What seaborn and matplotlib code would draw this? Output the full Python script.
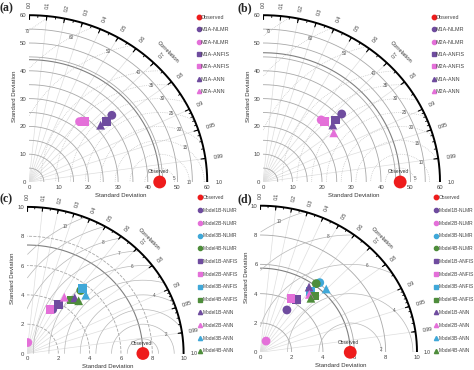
import numpy as np
import pandas as pd
import matplotlib
matplotlib.use("Agg")
import matplotlib.pyplot as plt
from matplotlib.lines import Line2D
import seaborn as sns

# modelli e valori (deviazione standard, correlazione)
names_a = ["M1A-NLMR", "M2A-NLMR", "M1A-ANFIS", "M2A-ANFIS", "M1A-ANN", "M2A-ANN"]
groups_a = ["M1", "M2", "M1", "M2", "M1", "M2"]
methods_a = ["NLMR", "NLMR", "ANFIS", "ANFIS", "ANN", "ANN"]
std_a = [36.8, 27.6, 34.1, 28.7, 31.6, 28.1]
corr_a = [0.758, 0.617, 0.769, 0.649, 0.763, 0.634]
obs_a = 44.0

std_b = [36.2, 29.8, 33.3, 30.1, 31.3, 29.8]
corr_b = [0.737, 0.662, 0.742, 0.695, 0.756, 0.805]
obs_b = 46.5

names_c = ["Model1B-NLMR", "Model2B-NLMR", "Model3B-NLMR", "Model4B-NLMR",
           "Model1B-ANFIS", "Model2B-ANFIS", "Model3B-ANFIS", "Model4B-ANFIS",
           "Model1B-ANN", "Model2B-ANN", "Model3B-ANN", "Model4B-ANN"]
groups_c = ["M1", "M2", "M3", "M4"] * 3
methods_c = ["NLMR"] * 4 + ["ANFIS"] * 4 + ["ANN"] * 4
std_c = [3.42, 0.75, 5.68, 5.50, 3.90, 3.34, 5.65, 4.63, 4.87, 4.52, 5.47, 4.88]
corr_c = [0.480, 0.067, 0.625, 0.624, 0.518, 0.440, 0.623, 0.615, 0.626, 0.527, 0.686, 0.676]
obs_c = 7.4

std_d = [3.35, 0.85, 6.08, 5.89, 4.26, 4.17, 5.23, 5.16, 5.43, 5.04, 6.03, 4.90]
corr_d = [0.507, 0.433, 0.624, 0.606, 0.540, 0.470, 0.610, 0.668, 0.573, 0.621, 0.698, 0.659]
obs_d = 5.74

palette = {"M1": "#6f4c9f", "M2": "#e470d9", "M3": "#40a8d8", "M4": "#4e8d3b"}
markers = {"NLMR": "o", "ANFIS": "s", "ANN": "^"}

corr_major = [0.0, 0.1, 0.2, 0.3, 0.4, 0.5, 0.6, 0.7, 0.8, 0.9, 0.95, 0.99, 1.0]
corr_minor = list(np.arange(0.05, 0.9, 0.05)) + list(np.arange(0.91, 1.0, 0.01))

sns.set_style("white")
plt.rcParams['font.family'] = ['Liberation Sans', 'DejaVu Sans']

fig = plt.figure(figsize=(4.74, 3.70), dpi=100)
W, H = 474.0, 370.0


def taylor(ax, smax, obs, std_arcs, std_ls, rms_levels, rms_ls, rms_labels):
    t = np.linspace(0, np.pi / 2, 300)
    # archi della deviazione standard
    for r in std_arcs:
        ax.plot(r * np.cos(t), r * np.sin(t), color="#a8a8a8", lw=0.6, ls=std_ls, zorder=1)
    ax.plot(obs * np.cos(t), obs * np.sin(t), color="#808080", lw=0.8, zorder=1)
    # linee radiali
    for c in corr_major[1:-1]:
        th = np.arccos(c)
        ax.plot([0, smax * np.cos(th)], [0, smax * np.sin(th)], color="#dedede", lw=0.5, zorder=0)
    # archi RMS centrati sull'osservato
    tt = np.linspace(0, np.pi, 500)
    for rms in rms_levels:
        x = obs + rms * np.cos(tt)
        y = rms * np.sin(tt)
        out = (x ** 2 + y ** 2 > smax ** 2) | (x < 0)
        x[out] = np.nan
        y[out] = np.nan
        ax.plot(x, y, color="#b8b8b8", lw=0.5, ls=rms_ls, zorder=1)
    R = 0.9 * smax
    for rms in rms_labels:
        xl = (R ** 2 + obs ** 2 - rms ** 2) / (2 * obs)
        if abs(xl) <= R:
            yl = np.sqrt(R ** 2 - xl ** 2)
        else:
            xl, yl = obs + rms, 0.02 * smax
        ax.text(xl, yl, "%g" % rms, fontsize=3.3, color="#555555", ha="center", va="center", zorder=2)
    # anello esterno
    ax.plot(smax * np.cos(t), smax * np.sin(t), color="black", lw=1.4, zorder=3)
    for c in corr_major:
        th = np.arccos(c)
        ax.plot([0.975 * smax * np.cos(th), smax * np.cos(th)],
                [0.975 * smax * np.sin(th), smax * np.sin(th)], color="black", lw=0.8, zorder=3)
        ax.text(1.045 * smax * np.cos(th), 1.045 * smax * np.sin(th), "%g" % c if c not in (0.0, 1.0) else "%.1f" % c,
                rotation=np.degrees(th), rotation_mode="anchor", ha="left", va="center",
                fontsize=3.6, color="#333333")
    for c in corr_minor:
        th = np.arccos(c)
        ax.plot([0.987 * smax * np.cos(th), smax * np.cos(th)],
                [0.987 * smax * np.sin(th), smax * np.sin(th)], color="black", lw=0.6, zorder=3)
    th = np.radians(45)
    ax.text(1.1 * smax * np.cos(th), 1.1 * smax * np.sin(th), "Correlation", rotation=-45,
            ha="center", va="center", fontsize=4.2, color="#333333")
    # punto osservato
    ax.scatter([obs], [0], s=85, color="#ee1c1c", zorder=5, clip_on=False, edgecolor="none")
    ax.text(obs - 0.01 * smax, 0.05 * smax, "Observed", fontsize=3.4, ha="center", va="bottom", color="#333333")
    ax.set_xlim(0, smax * 1.03)
    ax.set_ylim(0, smax * 1.03)
    ax.set_aspect("auto")
    for s in ax.spines.values():
        s.set_visible(False)
    ax.tick_params(length=0, labelsize=4.3, colors="#444444", pad=2)
    ax.grid(False)


def points(ax, std, corr, groups, methods):
    th = np.arccos(np.array(corr))
    df = pd.DataFrame({"x": np.array(std) * np.cos(th), "y": np.array(std) * np.sin(th),
                       "group": groups, "method": methods})
    sns.scatterplot(data=df, x="x", y="y", hue="group", style="method", palette=palette,
                    markers=markers, s=40, edgecolor="none", legend=False, ax=ax, zorder=4)
    ax.set_xlabel("Standard Deviation", fontsize=4.3, color="#333333", labelpad=2)
    ax.set_ylabel("Standard Deviation", fontsize=4.3, color="#333333", labelpad=1.5)


def add_axes(x0, y0, sx, sy, lim):
    # x0,y0 = pixel dell'origine; sx,sy = pixel per unita'
    return fig.add_axes([x0 / W, (H - y0) / H, sx * lim / W, sy * lim / H])


def legend(names, groups, methods, px, py, fs, ls):
    hs = [Line2D([], [], ls="", marker="o", color="#ee1c1c", markersize=3.2, label="Observed")]
    for n, g, m in zip(names, groups, methods):
        hs.append(Line2D([], [], ls="", marker=markers[m], color=palette[g], markersize=3.0, label=n))
    fig.legend(handles=hs, loc="upper left", bbox_to_anchor=(px / W, 1 - py / H), frameon=False,
               fontsize=fs, handlelength=0.6, handletextpad=0.1, labelspacing=ls,
               borderpad=0, borderaxespad=0, labelcolor="#444444")


axa = add_axes(29, 182, 2.97, 2.78, 60 * 1.03)
taylor(axa, 60, obs_a, [5, 10, 15, 20, 25, 30, 35, 40, 45, 50, 55], "-",
       [5, 10, 15, 20, 25, 30, 35, 40, 50, 60, 70], ":", [5, 10, 15, 20, 25, 30, 35, 40, 50, 60, 70])
points(axa, std_a, corr_a, groups_a, methods_a)
axa.set_xticks(range(0, 61, 10))
axa.set_yticks(range(0, 61, 10))
legend(names_a, groups_a, methods_a, 197, 15, 3.9, 1.35)

axb = add_axes(263, 182, 2.95, 2.78, 60 * 1.03)
taylor(axb, 60, obs_b, [5, 10, 15, 20, 25, 30, 35, 40, 45, 50, 55], "-",
       [5, 10, 15, 20, 25, 30, 35, 40, 50, 60, 70], ":", [5, 10, 15, 20, 25, 30, 35, 40, 50, 60, 70])
points(axb, std_b, corr_b, groups_a, methods_a)
axb.set_xticks(range(0, 61, 10))
axb.set_yticks(range(0, 61, 10))
legend(names_a, groups_a, methods_a, 432, 15, 3.9, 1.35)

axc = add_axes(27, 353.5, 15.66, 14.66, 10 * 1.03)
taylor(axc, 10, obs_c, [2, 4, 6, 8], "--",
       [1, 2, 3, 4, 5, 6, 7, 8, 9, 10], "-", [2, 4, 6, 7, 8, 10])
points(axc, std_c, corr_c, groups_c, methods_c)
axc.set_xticks(range(0, 11, 2))
axc.set_yticks(range(0, 11, 2))
legend(names_c, groups_c, methods_c, 199, 195, 3.5, 1.6)

axd = add_axes(260.3, 352.3, 15.67, 14.66, 10 * 1.03)
taylor(axd, 10, obs_d, [2, 4, 6, 8], "-",
       [2, 4, 6, 8, 10], "-", [2, 4, 6, 8, 10])
points(axd, std_d, corr_d, groups_c, methods_c)
axd.set_xticks(range(0, 11, 2))
axd.set_yticks(range(0, 11, 2))
legend(names_c, groups_c, methods_c, 435, 195, 3.5, 1.6)

for lab, x, y in [("(a)", 0, 2), ("(b)", 238, 2), ("(c)", 0, 193), ("(d)", 238, 193)]:
    fig.text(x / W, 1 - y / H, lab, fontsize=8.5, fontweight="bold", family="Liberation Serif",
             ha="left", va="top")

fig.savefig("out.png", dpi=100)
